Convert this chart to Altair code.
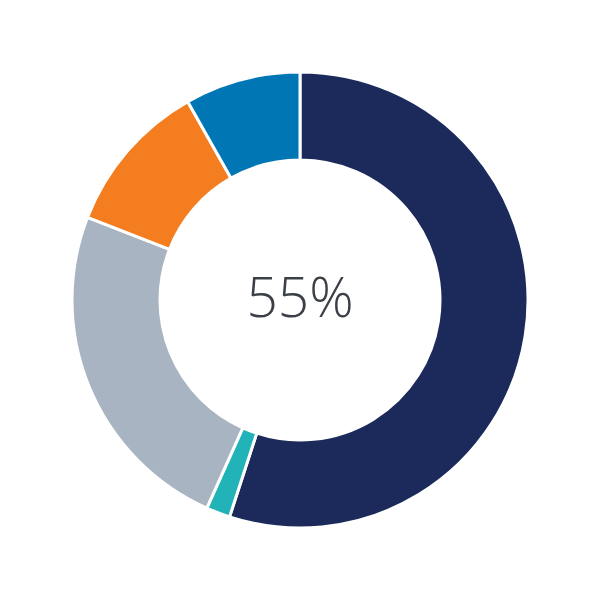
import altair as alt
import pandas as pd

categories = ["A", "B", "C", "D", "E"]
values = [55.0, 1.7, 24.2, 10.9, 8.2]
colors = ["#1b2a5a", "#22b3b9", "#a9b4c2", "#f47d20", "#0176b5"]
center_label = ["55%"]

df = pd.DataFrame({"cat": categories, "value": values, "idx": list(range(len(categories)))})

arc = alt.Chart(df).mark_arc(
    outerRadius=228, innerRadius=140, stroke="white", strokeWidth=3
).encode(
    theta=alt.Theta("value:Q", stack=True),
    color=alt.Color("cat:N", scale=alt.Scale(domain=categories, range=colors), legend=None),
    order=alt.Order("idx:Q", sort="ascending"),
)

text = alt.Chart(pd.DataFrame({"t": center_label})).mark_text(
    font="Open Sans", fontSize=55, fontWeight=300, color="#3b3f47", baseline="middle", align="center"
).encode(text="t:N")

chart = alt.layer(arc, text).properties(
    width=584, height=584, autosize=alt.AutoSizeParams(type="none"), padding=0
).configure_view(stroke=None)

chart.save("out.html", embed_options={"renderer": "svg", "actions": False})
